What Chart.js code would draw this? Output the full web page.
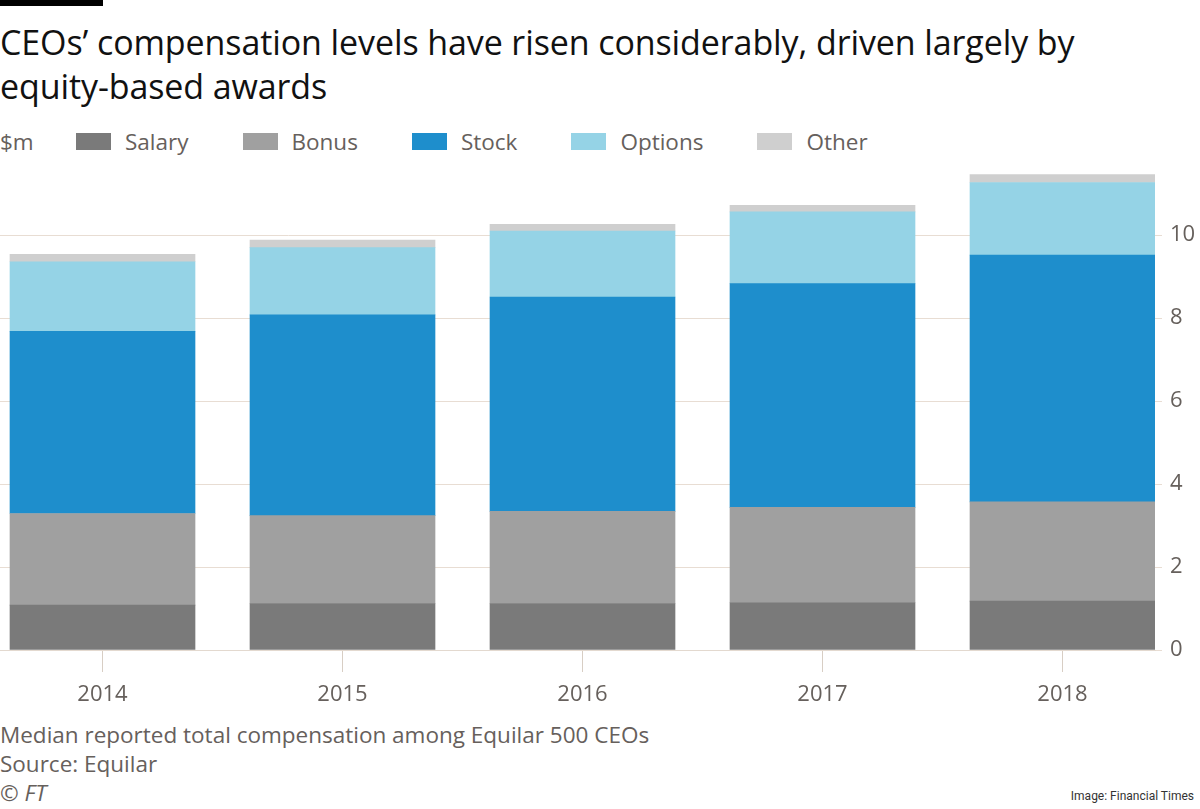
<!DOCTYPE html>
<html>
<head>
<meta charset="utf-8">
<script src="https://cdn.jsdelivr.net/npm/chart.js@4.4.1/dist/chart.umd.min.js"></script>
<style>
    body { margin: 0; background: #fff; }
    #page { position: relative; width: 1200px; height: 809px; overflow: hidden; font-family: "Open Sans", sans-serif; }
    #topbar { position: absolute; left: 0; top: 0; width: 103px; height: 6px; background: #000; }
    #title { position: absolute; left: 0; top: 20px; font-size: 34px; line-height: 44px; color: #111; letter-spacing: -0.1px; }
    #legend { position: absolute; left: 0; top: 127px; height: 28px; display: flex; align-items: center; font-size: 22.5px; color: #66605c; }
    #legend .unit { width: 76px; }
    #legend .item { display: flex; align-items: center; margin-right: 54px; }
    #legend .sw { width: 35px; height: 17px; margin-right: 14px; }
    #chartbox { position: absolute; left: 0; top: 131px; width: 1200px; height: 579px; }
    .foot { position: absolute; left: 0; font-size: 22.5px; color: #66605c; }
    #credit { position: absolute; right: 6px; top: 789px; font-family: Roboto, sans-serif; font-size: 12px; color: #333; }
</style>
</head>
<body>
<div id="page">
    <div id="topbar"></div>
    <div id="title">CEOs’ compensation levels have risen considerably, driven largely by<br>equity-based awards</div>
    <div id="legend"><span class="unit">$m</span></div>
    <div id="chartbox"><canvas id="chart1" width="1200" height="579"></canvas></div>
    <div class="foot" style="top:719px">Median reported total compensation among Equilar 500 CEOs</div>
    <div class="foot" style="top:748px">Source: Equilar</div>
    <div class="foot" style="top:777px">© <i>FT</i></div>
    <div id="credit">Image: Financial Times</div>
</div>
<script>
// median compensation, $m
var years = ['2014', '2015', '2016', '2017', '2018'];
var salary = [1.08, 1.12, 1.12, 1.14, 1.18];
var bonus = [2.21, 2.12, 2.22, 2.30, 2.39];
var stock = [4.39, 4.84, 5.17, 5.39, 5.95];
var options = [1.68, 1.62, 1.59, 1.73, 1.75];
var other = [0.18, 0.18, 0.16, 0.16, 0.19];
var yTicks = [0, 2, 4, 6, 8, 10];

var series = [
    { label: 'Salary', values: salary, color: '#7a7a7a' },
    { label: 'Bonus', values: bonus, color: '#a0a0a0' },
    { label: 'Stock', values: stock, color: '#1e8ecc' },
    { label: 'Options', values: options, color: '#95d3e6' },
    { label: 'Other', values: other, color: '#cfcfcf' }
];

var legend = document.getElementById('legend');
series.forEach(function (s) {
    var item = document.createElement('span');
    item.className = 'item';
    item.innerHTML = '<span class="sw" style="background:' + s.color + '"></span>' + s.label;
    legend.appendChild(item);
});

var tickColor = '#66605c';
var gridColor = '#e8ddd3';

var datasets = series.map(function (s) {
    return {
        label: s.label,
        data: s.values.map(function (v, i) { return { x: i, y: v }; }),
        backgroundColor: s.color,
        borderWidth: 0,
        barThickness: 185
    };
});

new Chart(document.getElementById('chart1'), {
    type: 'bar',
    data: { datasets: datasets },
    options: {
        responsive: false,
        animation: false,
        layout: { padding: 0, autoPadding: false },
        plugins: { legend: { display: false }, tooltip: { enabled: false } },
        scales: {
            x: {
                type: 'linear',
                stacked: true,
                offset: false,
                min: -0.4271,
                max: 4.3854,
                afterBuildTicks: function (scale) {
                    scale.ticks = years.map(function (y, i) { return { value: i }; });
                },
                afterFit: function (scale) { scale.height = 60; },
                grid: { display: true, offset: false, drawOnChartArea: false, drawTicks: true, tickLength: 22, color: '#d8cec4' },
                border: { display: true, color: '#e3d9cf' },
                ticks: {
                    padding: 10,
                    maxRotation: 0,
                    color: tickColor,
                    font: { family: 'Open Sans', size: 22 },
                    callback: function (v) { return years[v]; }
                }
            },
            y: {
                position: 'right',
                stacked: true,
                min: 0,
                max: 12,
                afterBuildTicks: function (scale) {
                    scale.ticks = yTicks.map(function (v) { return { value: v }; });
                },
                afterFit: function (scale) { scale.width = 45; },
                grid: { color: gridColor, drawTicks: true, tickLength: 7 },
                border: { display: false },
                ticks: {
                    padding: 8,
                    color: tickColor,
                    font: { family: 'Open Sans', size: 22 }
                }
            }
        }
    }
});
</script>
</body>
</html>
